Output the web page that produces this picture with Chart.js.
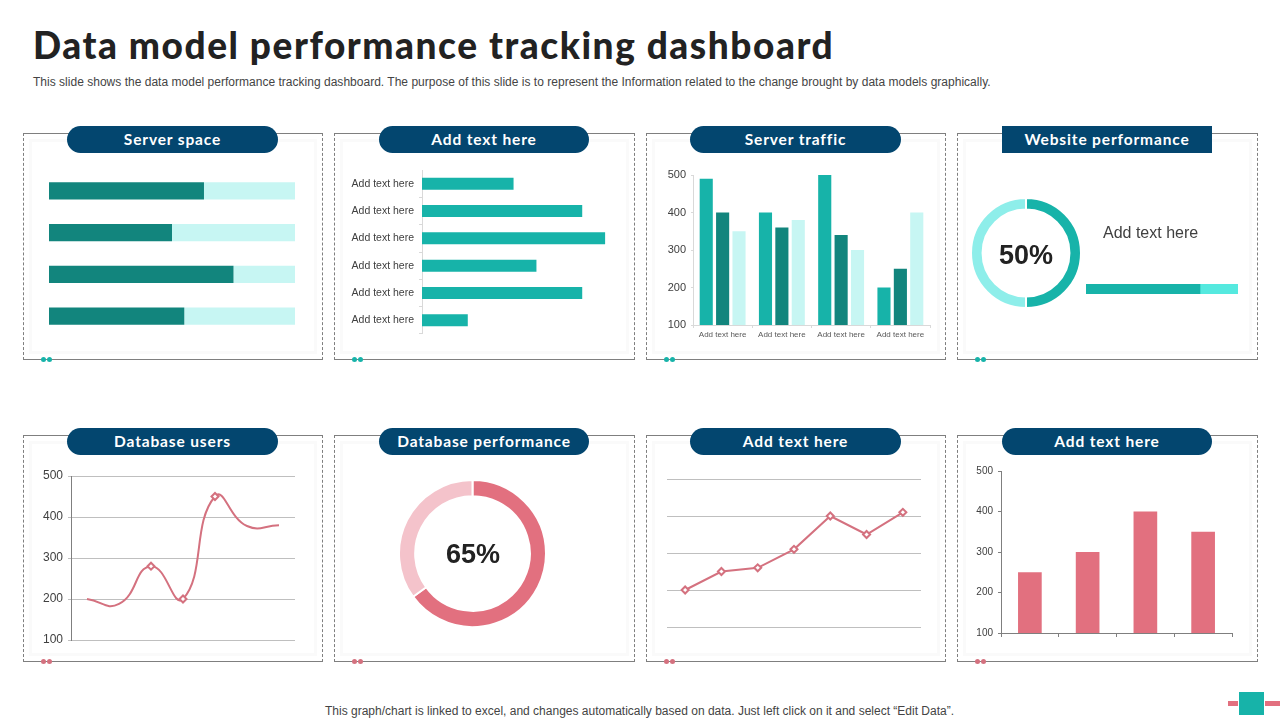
<!DOCTYPE html>
<html>
<head>
<meta charset="utf-8">
<title>Data model performance tracking dashboard</title>
<script src="https://cdn.jsdelivr.net/npm/chart.js@4"></script>
<style>
  html, body { margin: 0; padding: 0; background: #fff; }
  #page { position: relative; width: 1280px; height: 720px; overflow: hidden; font-family: "Liberation Sans", Arial, sans-serif; }
  #page > * { position: absolute; }
  #title { left: 33px; top: 21px; font: 900 37px/48px Lato, sans-serif; letter-spacing: 1.55px; color: #222; white-space: nowrap; }
  #sub { left: 33px; top: 74px; font-size: 12px; line-height: 16px; letter-spacing: 0.016px; color: #444; white-space: nowrap; }
  #foot { left: 325px; top: 703px; font-size: 12px; line-height: 16px; color: #444; white-space: nowrap; }
  .frame { box-sizing: border-box; border-top: 1px solid #7f7f7f; border-bottom: 1px solid #7f7f7f; border-left: 1px dashed #7f7f7f; border-right: 1px dashed #7f7f7f; }
  .inner { box-sizing: border-box; border: 3px solid #fafafa; }
  .pill { height: 27px; line-height: 27px; background: #03466f; color: #fff; text-align: center; border-radius: 14px; font: 700 15.5px/27px Lato, sans-serif; letter-spacing: 0.85px; }
  .dot { width: 5px; height: 5px; border-radius: 50%; }
  .big { font-weight: 700; font-size: 27px; line-height: 32px; color: #222; text-align: center; }
  canvas { position: absolute; }
</style>
</head>
<body>
<div id="page">
  <div id="title">Data model performance tracking dashboard</div>
  <div id="sub">This slide shows the data model performance tracking dashboard. The purpose of this slide is to represent the Information related to the change brought by data models graphically.</div>
  <div id="foot">This graph/chart is linked to excel, and changes automatically based on data. Just left click on it and select “Edit Data”.</div>
</div>
<script>
// data
var spaceUsed = [63, 50, 75, 55];
var spaceFree = [37, 50, 25, 45];
var spaceRows = ['A', 'B', 'C', 'D'];

var textRows = ['Add text here', 'Add text here', 'Add text here', 'Add text here', 'Add text here', 'Add text here'];
var textValues = [20, 35, 40, 25, 35, 10];

var trafficCats = ['Add text here', 'Add text here', 'Add text here', 'Add text here'];
var trafficA = [490, 400, 500, 200];
var trafficB = [400, 360, 340, 250];
var trafficC = [350, 380, 300, 400];

var websiteShare = [50, 50];
var websiteBar = [75];
var websiteBarRest = [25];

var usersCats = ['1', '2', '3', '4', '5', '6', '7'];
var usersValues = [200, 188, 280, 200, 450, 378, 380];
var usersMarked = [false, false, true, true, true, false, false];

var dbShare = [65, 35];

var lineCats = ['1', '2', '3', '4', '5', '6', '7'];
var lineValues = [200, 250, 260, 310, 400, 350, 410];

var barCats = ['1', '2', '3', '4'];
var barValues = [250, 300, 400, 350];

var axisTicks = [100, 200, 300, 400, 500];

// colours
var TEAL = '#17b3a9', DARK = '#12857d', PALE = '#c7f6f3', PINK = '#e2707f', LINE = '#d4717f';

var page = document.getElementById('page');
Chart.defaults.font.family = '"Liberation Sans", Arial, sans-serif';
Chart.defaults.animation = false;
Chart.defaults.responsive = false;
Chart.defaults.plugins.legend.display = false;
Chart.defaults.plugins.tooltip.enabled = false;

function add(cls, x, y, w, h, text) {
  var d = document.createElement('div');
  d.className = cls;
  d.style.left = x + 'px';
  d.style.top = y + 'px';
  if (w) d.style.width = w + 'px';
  if (h) d.style.height = h + 'px';
  if (text) d.textContent = text;
  page.appendChild(d);
  return d;
}

// panel frames, heading pills and the little dots
var cols = [[23, 300], [334, 301], [646, 300], [957, 301]];
var pills = [[67, 211], [379, 210], [690, 211], [1002, 210]];
var heads = [['Server space', 'Add text here', 'Server traffic', 'Website performance'],
             ['Database users', 'Database performance', 'Add text here', 'Add text here']];
[133, 435].forEach(function(top, row) {
  cols.forEach(function(c, i) {
    add('frame', c[0], top, c[1], 227);
    add('inner', c[0] + 6, top + 6, c[1] - 12, 215);
    var p = add('pill', pills[i][0], top - 7, pills[i][1], 27, heads[row][i]);
    if (row == 0 && i == 3) p.style.borderRadius = '0';
    [18, 24].forEach(function(dx) {
      add('dot', c[0] + dx, top + 224, 5, 5).style.background = row == 0 ? TEAL : '#d4717f';
    });
  });
});

// footer mark
add('', 1228, 701, 10, 5).style.background = PINK;
add('', 1265, 701, 15, 5).style.background = PINK;
add('', 1239, 692, 25, 23).style.background = TEAL;

// plot is the wanted plot area, m = [left, top, right, bottom] room around it for labels
function draw(plot, m, config) {
  var cv = document.createElement('canvas');
  cv.width = plot[2] + m[0] + m[2];
  cv.height = plot[3] + m[1] + m[3];
  cv.style.left = (plot[0] - m[0]) + 'px';
  cv.style.top = (plot[1] - m[1]) + 'px';
  page.appendChild(cv);
  config.options = config.options || {};
  config.options.layout = { autoPadding: false, padding: { top: m[1], right: m[2] } };
  return new Chart(cv.getContext('2d'), config);
}
// fixed axis sizes, and no extra room for half a tick label
function fixWidth(n) {
  return function(s) { s.width = n; s.paddingTop = 0; s.paddingBottom = 0; };
}
function fixHeight(n) {
  return function(s) { s.height = n; s.paddingLeft = 0; s.paddingRight = 0; };
}
function useTicks(s) {
  s.ticks = axisTicks.map(function(v) { return { value: v }; });
}

// Server space
draw([49, 170, 246, 167], [0, 0, 0, 0], {
  type: 'bar',
  data: { labels: spaceRows, datasets: [
    { data: spaceUsed, backgroundColor: DARK, barPercentage: 0.41, categoryPercentage: 1 },
    { data: spaceFree, backgroundColor: PALE, barPercentage: 0.41, categoryPercentage: 1 }
  ] },
  options: { indexAxis: 'y', scales: {
    x: { display: false, stacked: true, min: 0, max: 100 },
    y: { display: false, stacked: true }
  } }
});

// Add text here, horizontal bars
draw([422, 170, 206, 164], [80, 0, 0, 0], {
  type: 'bar',
  data: { labels: textRows, datasets: [
    { data: textValues, backgroundColor: TEAL, barPercentage: 0.44, categoryPercentage: 1 }
  ] },
  options: { indexAxis: 'y', scales: {
    x: { display: false, min: 0, max: 45 },
    y: {
      afterFit: fixWidth(80),
      border: { color: '#d9d9d9' },
      grid: { drawOnChartArea: false, color: '#d9d9d9', tickLength: 3 },
      ticks: { color: '#404040', font: { size: 10.5 }, padding: 5 }
    }
  } }
});

// Server traffic
draw([693, 175, 237, 150], [30, 6, 2, 18], {
  type: 'bar',
  data: { labels: trafficCats, datasets: [
    { data: trafficA, backgroundColor: TEAL, barPercentage: 0.8, categoryPercentage: 0.83 },
    { data: trafficB, backgroundColor: DARK, barPercentage: 0.8, categoryPercentage: 0.83 },
    { data: trafficC, backgroundColor: PALE, barPercentage: 0.8, categoryPercentage: 0.83 }
  ] },
  options: { scales: {
    x: {
      afterFit: fixHeight(18),
      border: { color: '#d9d9d9' },
      grid: { drawOnChartArea: false, color: '#d9d9d9', tickLength: 3 },
      ticks: { color: '#595959', font: { size: 8 }, maxRotation: 0, autoSkip: false, padding: 2 }
    },
    y: {
      min: 100, max: 500, afterFit: fixWidth(30),
      afterBuildTicks: useTicks,
      border: { color: '#d9d9d9' },
      grid: { drawOnChartArea: false, color: '#d9d9d9', tickLength: 2 },
      ticks: { color: '#404040', font: { size: 11 }, padding: 5 }
    }
  } }
});

// Website performance ring
draw([970, 197, 112, 112], [0, 0, 0, 0], {
  type: 'doughnut',
  data: { datasets: [ { data: websiteShare, backgroundColor: [TEAL, '#8eeeea'], borderColor: '#fff', borderWidth: 2 } ] },
  options: { cutout: '79%' }
});
add('big', 976, 239, 100, 32, '50%');
add('', 1103, 224, 100, 18, 'Add text here').style.cssText += 'font-size:16px;line-height:18px;color:#404040;white-space:nowrap;';

// Website performance bar
draw([1086, 284, 152, 10], [0, 0, 0, 0], {
  type: 'bar',
  data: { labels: ['A'], datasets: [
    { data: websiteBar, backgroundColor: TEAL, barPercentage: 1, categoryPercentage: 1 },
    { data: websiteBarRest, backgroundColor: '#55e9df', barPercentage: 1, categoryPercentage: 1 }
  ] },
  options: { indexAxis: 'y', scales: {
    x: { display: false, stacked: true, min: 0, max: 100 },
    y: { display: false, stacked: true }
  } }
});

// Database users
draw([71, 476, 224, 164], [30, 8, 2, 8], {
  type: 'line',
  data: { labels: usersCats, datasets: [ {
    data: usersValues, borderColor: LINE, borderWidth: 2, tension: 0.5,
    pointStyle: 'rectRot', pointBackgroundColor: '#fff', pointBorderColor: LINE, pointBorderWidth: 2,
    pointRadius: function(c) { return usersMarked[c.dataIndex] ? 3.5 : 0; }
  } ] },
  options: { scales: {
    x: { offset: true, afterFit: fixHeight(8), border: { display: false }, grid: { display: false }, ticks: { display: false } },
    y: {
      min: 100, max: 500, afterFit: fixWidth(30),
      afterBuildTicks: useTicks,
      border: { color: '#7f7f7f' },
      grid: { color: '#bfbfbf', tickLength: 3 },
      ticks: { color: '#404040', font: { size: 12 }, padding: 5 }
    }
  } }
});

// Database performance ring
draw([398, 479, 149, 149], [0, 0, 0, 0], {
  type: 'doughnut',
  data: { datasets: [ { data: dbShare, backgroundColor: [PINK, '#f4c3cb'], borderColor: '#fff', borderWidth: 2 } ] },
  options: { cutout: '78%' }
});
add('big', 423, 538, 100, 32, '65%');

// Add text here, line without labels
draw([667, 479, 254, 148], [0, 2, 2, 2], {
  type: 'line',
  data: { labels: lineCats, datasets: [ {
    data: lineValues, borderColor: LINE, borderWidth: 2, tension: 0,
    pointStyle: 'rectRot', pointBackgroundColor: '#fff', pointBorderColor: LINE, pointBorderWidth: 2, pointRadius: 3.5
  } ] },
  options: { scales: {
    x: { offset: true, afterFit: fixHeight(2), border: { display: false }, grid: { display: false }, ticks: { display: false } },
    y: {
      min: 100, max: 500, afterFit: fixWidth(0),
      afterBuildTicks: useTicks,
      border: { display: false },
      grid: { color: '#bfbfbf', drawTicks: false },
      ticks: { display: false }
    }
  } }
});

// Add text here, pink bars
draw([1001, 471, 231, 162], [30, 8, 2, 6], {
  type: 'bar',
  data: { labels: barCats, datasets: [
    { data: barValues, backgroundColor: PINK, barPercentage: 1, categoryPercentage: 0.41 }
  ] },
  options: { scales: {
    x: {
      afterFit: fixHeight(6),
      border: { color: '#7f7f7f' },
      grid: { drawOnChartArea: false, color: '#7f7f7f', tickLength: 4 },
      ticks: { display: false }
    },
    y: {
      min: 100, max: 500, afterFit: fixWidth(30),
      afterBuildTicks: useTicks,
      border: { color: '#7f7f7f' },
      grid: { drawOnChartArea: false, color: '#7f7f7f', tickLength: 3 },
      ticks: { color: '#404040', font: { size: 10 }, padding: 5 }
    }
  } }
});
</script>
</body>
</html>
